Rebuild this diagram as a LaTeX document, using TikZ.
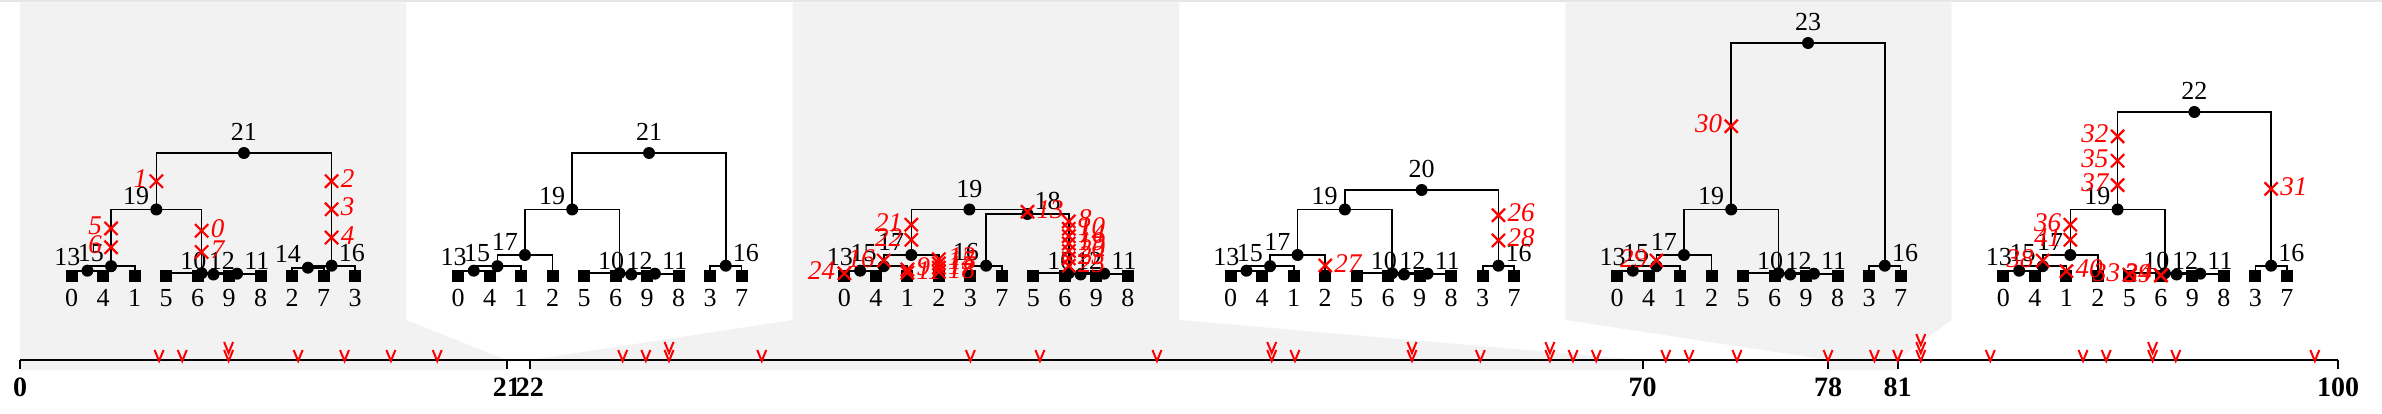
\documentclass[tikz,border=0pt]{standalone}
\usepackage{fontspec}
\setmainfont{Liberation Serif}
\usetikzlibrary{shapes.misc}
\definecolor{bgshade}{HTML}{F2F2F2}
\definecolor{topline}{HTML}{E6E6E6}
\definecolor{mutred}{HTML}{FF0000}
\newcommand\setY[2]{\expandafter\gdef\csname nodeY#1\endcsname{#2}}
\newcommand\getY[1]{\csname nodeY#1\endcsname}
\newcommand\setX[3]{\expandafter\xdef\csname nodeX#1-#2\endcsname{#3}}
\newcommand\getX[2]{\csname nodeX#1-#2\endcsname}
\setY{0}{276}\setY{1}{276}\setY{2}{276}\setY{3}{276}\setY{4}{276}
\setY{5}{276}\setY{6}{276}\setY{7}{276}\setY{8}{276}\setY{9}{276}
\setY{10}{274.5}\setY{11}{273.7}\setY{12}{273.2}\setY{13}{270.7}
\setY{14}{267.7}\setY{15}{266.2}\setY{16}{265.7}\setY{17}{255}
\setY{18}{214}\setY{19}{209.5}\setY{20}{190}\setY{21}{153}
\setY{22}{112}\setY{23}{43}
\newcommand\leaf[3]{%
  \pgfmathsetmacro\tmpx{20+386.333*#1+51.7+31.5*#3}%
  \setX{#1}{#2}{\tmpx}%
  \node[leafbox] (t#1n#2) at (\tmpx,276) {};%
  \node[leaflab] (t#1n#2l) at (\tmpx,306) {#2};}
\newcommand\innernode[5]{%
  \pgfmathsetmacro\tmpx{(\getX{#1}{#3}+\getX{#1}{#4})/2}%
  \setX{#1}{#2}{\tmpx}%
  \node[dotnode] (t#1n#2) at (\tmpx,\getY{#2}) {};%
  \draw[edge] (t#1n#3.center) |- (t#1n#2.center);%
  \draw[edge] (t#1n#4.center) |- (t#1n#2.center);%
  \node[nlab#5] (t#1n#2l) at (t#1n#2.center) {#2};}
\newcommand\mut[7]{%
  \pgfmathsetmacro\tmpy{\getY{#3}+(\getY{#2}-\getY{#3})*#4/(#5+1)}%
  \node[mutx] (t#1m#6) at (\getX{#1}{#2},\tmpy) {};%
  \node[mlab#7] (t#1m#6l) at (t#1m#6.center) {#6};}
\newcommand\stdtree[2]{% tree index, root id
  \leaf{#1}{0}{0}\leaf{#1}{4}{1}\leaf{#1}{1}{2}\leaf{#1}{2}{3}\leaf{#1}{5}{4}
  \leaf{#1}{6}{5}\leaf{#1}{9}{6}\leaf{#1}{8}{7}\leaf{#1}{3}{8}\leaf{#1}{7}{9}
  \innernode{#1}{13}{0}{4}{l}\innernode{#1}{15}{13}{1}{l}\innernode{#1}{17}{15}{2}{l}
  \innernode{#1}{10}{6}{9}{l}\innernode{#1}{11}{10}{8}{r}\innernode{#1}{12}{5}{11}{r}
  \innernode{#1}{19}{17}{12}{l}\innernode{#1}{16}{3}{7}{r}\innernode{#1}{#2}{19}{16}{c}}
\begin{document}
\begin{tikzpicture}[x=1pt,y=-1pt,
  edge/.style={line width=1.6pt,black},
  leafbox/.style={rectangle,fill=black,inner sep=0pt,minimum size=12pt},
  dotnode/.style={circle,fill=black,inner sep=0pt,minimum size=12pt},
  lab/.style={inner sep=0pt,font=\fontsize{26}{30}\selectfont},
  leaflab/.style={lab,anchor=base},
  nlabl/.style={lab,anchor=base east,xshift=-7pt,yshift=5pt},
  nlabr/.style={lab,anchor=base west,xshift=7pt,yshift=4pt},
  nlabc/.style={lab,anchor=base,yshift=12.5pt},
  mutx/.style={cross out,draw=mutred,line width=2.2pt,inner sep=0pt,minimum size=11pt},
  mlab/.style={inner sep=0pt,text=mutred,font=\itshape\fontsize{27}{30}\selectfont},
  mlabl/.style={mlab,anchor=base east,xshift=-9pt,yshift=-6.5pt},
  mlabr/.style={mlab,anchor=base west,xshift=9pt,yshift=-6.5pt},
  axline/.style={line width=2pt,black},
  axlab/.style={inner sep=0pt,anchor=base,font=\bfseries\fontsize{28}{32}\selectfont},
  sitev/.style={line width=2pt,mutred}]
\useasboundingbox (0,0) rectangle (2382,414);
% shaded backgrounds
\fill[bgshade] (20,2.5) -- (406.33,2.5) -- (406.33,320) -- (506.78,360) -- (506.78,370) -- (20,370) -- cycle;
\fill[bgshade] (792.67,2.5) -- (1179,2.5) -- (1179,320) -- (1642.6,360) -- (1642.6,370) -- (529.96,370) -- (529.96,360) -- (792.67,320) -- cycle;
\fill[bgshade] (1565.33,2.5) -- (1951.67,2.5) -- (1951.67,320) -- (1897.58,360) -- (1897.58,370) -- (1828.04,370) -- (1828.04,360) -- (1565.33,320) -- cycle;
\fill[topline] (0,0) rectangle (2382,2.5);
% axis
\coordinate (axL) at (20,360);
\coordinate (axR) at (2338,360);
\draw[axline] (axL) -- (axR);
\foreach \g in {0,21,22,70,78,81,100}{
  \coordinate (tk\g) at ({20+23.18*\g},360);
  \coordinate (tkb\g) at ({20+23.18*\g},369);
  \draw[axline] (tk\g) -- (tkb\g);
  \node[axlab] (tkl\g) at ({20+23.18*\g},396) {\g};
}
\foreach \g/\c in {6/1,7/1,9/2,12/1,14/1,16/1,18/1,26/1,27/1,28/2,32/1,41/1,44/1,49.05/1,54/2,55/1,60.05/2,63/1,66/2,67/1,68/1,71/1,72/1,74.07/1,78/1,80/1,81/1,82/3,85/1,89/1,90/1,92/2,93/1,99/1}{
  \foreach \k in {1,...,\c}{
    \draw[sitev] ({20+23.18*\g-4.5},{350-8*(\k-1)}) -- ({20+23.18*\g},{361-8*(\k-1)}) -- ({20+23.18*\g+4.5},{350-8*(\k-1)});
  }
}
% tree 0
\leaf{0}{0}{0}\leaf{0}{4}{1}\leaf{0}{1}{2}\leaf{0}{5}{3}\leaf{0}{6}{4}
\leaf{0}{9}{5}\leaf{0}{8}{6}\leaf{0}{2}{7}\leaf{0}{7}{8}\leaf{0}{3}{9}
\innernode{0}{13}{0}{4}{l}\innernode{0}{15}{13}{1}{l}
\innernode{0}{10}{6}{9}{l}\innernode{0}{11}{10}{8}{r}\innernode{0}{12}{5}{11}{r}
\innernode{0}{19}{15}{12}{l}\innernode{0}{14}{2}{7}{l}\innernode{0}{16}{14}{3}{r}
\innernode{0}{21}{19}{16}{c}
% tree 1
\stdtree{1}{21}
% tree 2
\leaf{2}{0}{0}\leaf{2}{4}{1}\leaf{2}{1}{2}\leaf{2}{2}{3}\leaf{2}{3}{4}
\leaf{2}{7}{5}\leaf{2}{5}{6}\leaf{2}{6}{7}\leaf{2}{9}{8}\leaf{2}{8}{9}
\innernode{2}{13}{0}{4}{l}\innernode{2}{15}{13}{1}{l}\innernode{2}{17}{15}{2}{l}
\innernode{2}{16}{3}{7}{l}\innernode{2}{10}{6}{9}{l}\innernode{2}{11}{10}{8}{r}
\innernode{2}{12}{5}{11}{r}\innernode{2}{18}{16}{12}{r}\innernode{2}{19}{17}{18}{c}
% trees 3-5
\stdtree{3}{20}
\stdtree{4}{23}
\stdtree{5}{22}
% mutations tree 0
\mut{0}{19}{21}{1}{1}{1}{l}
\mut{0}{16}{21}{1}{3}{2}{r}\mut{0}{16}{21}{2}{3}{3}{r}\mut{0}{16}{21}{3}{3}{4}{r}
\mut{0}{15}{19}{1}{2}{5}{l}\mut{0}{15}{19}{2}{2}{6}{l}
\mut{0}{12}{19}{1}{2}{0}{r}\mut{0}{12}{19}{2}{2}{7}{r}
% mutations tree 2
\mut{2}{18}{19}{1}{1}{13}{r}
\mut{2}{17}{19}{1}{2}{21}{l}\mut{2}{17}{19}{2}{2}{22}{l}
\mut{2}{15}{17}{1}{1}{16}{l}
\mut{2}{0}{13}{1}{1}{24}{l}
\mut{2}{1}{15}{1}{2}{9}{r}\mut{2}{1}{15}{2}{2}{11}{r}
\mut{2}{2}{17}{1}{4}{12}{r}\mut{2}{2}{17}{2}{4}{15}{r}\mut{2}{2}{17}{3}{4}{17}{r}\mut{2}{2}{17}{4}{4}{18}{r}
\mut{2}{12}{18}{1}{7}{8}{r}\mut{2}{12}{18}{2}{7}{10}{r}\mut{2}{12}{18}{3}{7}{14}{r}
\mut{2}{12}{18}{4}{7}{19}{r}\mut{2}{12}{18}{5}{7}{20}{r}\mut{2}{12}{18}{6}{7}{23}{r}
\mut{2}{12}{18}{7}{7}{25}{r}
% mutations tree 3
\mut{3}{16}{20}{1}{2}{26}{r}\mut{3}{16}{20}{2}{2}{28}{r}
\mut{3}{2}{17}{1}{1}{27}{r}
% mutations tree 4
\mut{4}{19}{23}{1}{1}{30}{l}
\mut{4}{15}{17}{1}{1}{29}{l}
% mutations tree 5
\mut{5}{19}{22}{1}{3}{32}{l}\mut{5}{19}{22}{2}{3}{35}{l}\mut{5}{19}{22}{3}{3}{37}{l}
\mut{5}{16}{22}{1}{1}{31}{r}
\mut{5}{17}{19}{1}{2}{36}{l}\mut{5}{17}{19}{2}{2}{41}{l}
\mut{5}{15}{17}{1}{1}{38}{l}
\mut{5}{1}{15}{1}{1}{40}{r}
\mut{5}{5}{12}{1}{1}{33}{l}
\mut{5}{6}{10}{1}{2}{34}{l}\mut{5}{6}{10}{2}{2}{39}{l}
\end{tikzpicture}
\end{document}
